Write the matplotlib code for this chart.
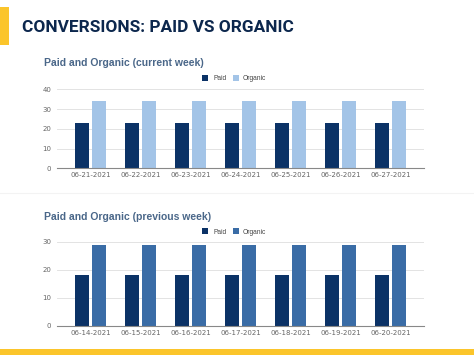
import matplotlib
matplotlib.use("Agg")
import matplotlib.pyplot as plt
import numpy as np

# Data
cur_dates = ["06-21-2021", "06-22-2021", "06-23-2021", "06-24-2021", "06-25-2021", "06-26-2021", "06-27-2021"]
cur_paid = [23, 23, 23, 23, 23, 23, 23]
cur_organic = [34, 34, 34, 34, 34, 34, 34]

prev_dates = ["06-14-2021", "06-15-2021", "06-16-2021", "06-17-2021", "06-18-2021", "06-19-2021", "06-20-2021"]
prev_paid = [18, 18, 18, 18, 18, 18, 18]
prev_organic = [29, 29, 29, 29, 29, 29, 29]

series_names = ["Paid", "Organic"]

W, H = 474, 355
fig = plt.figure(figsize=(W / 100, H / 100), dpi=100)
fig.patch.set_facecolor("white")

YELLOW = "#fbc52b"
NAVY = "#0b3266"
TITLE_C = "#0c274d"
SUB_C = "#4a6789"

def px(x, y):
    return x / W, 1 - y / H

# decorations
fig.add_artist(plt.Rectangle((0, 1 - 45 / H), 9 / W, 38 / H, transform=fig.transFigure, color=YELLOW, lw=0))
fig.add_artist(plt.Rectangle((0, 0), 1, 6 / H, transform=fig.transFigure, color=YELLOW, lw=0))
fig.add_artist(plt.Line2D([0, 1], [1 - 193 / H] * 2, transform=fig.transFigure, color="#f3f3f3", lw=0.8))

fig.text(*px(22, 27), "CONVERSIONS: PAID VS ORGANIC", family="Roboto", weight="bold",
         fontsize=12.4, color=TITLE_C, ha="left", va="center")

def legend(y, colors):
    xs = [(202, 213), (233, 243)]
    for (sx, tx), c, name in zip(xs, colors, series_names):
        fig.add_artist(plt.Rectangle(px(sx, y + 3), 6 / W, 6 / H, transform=fig.transFigure, color=c, lw=0))
        fig.text(*px(tx, y), name, fontsize=4.8, color="#444444", ha="left", va="center_baseline",
                 family="Liberation Sans")

def make_chart(top_px, bot_px, dates, paid, organic, org_color, ymax, yticks, sub, sub_y, leg_y):
    ax = fig.add_axes([57 / W, 1 - bot_px / H, 367 / W, (bot_px - top_px) / H])
    x = np.arange(len(dates))
    bw = 0.29
    ax.bar(x - 0.166, paid, bw, color=NAVY, zorder=3)
    ax.bar(x + 0.166, organic, bw, color=org_color, zorder=3)
    ax.set_xlim(-0.67, 6.67)
    ax.set_ylim(0, ymax)
    ax.set_yticks(yticks)
    ax.set_xticks(x)
    ax.set_xticklabels(dates)
    ax.tick_params(axis="both", length=0, labelsize=5, labelcolor="#666666", pad=3)
    ax.tick_params(axis="y", pad=4)
    ax.grid(axis="y", color="#e3e3e3", lw=0.7, zorder=0)
    for s in ["top", "right", "left"]:
        ax.spines[s].set_visible(False)
    ax.spines["bottom"].set_color("#888888")
    ax.spines["bottom"].set_linewidth(0.8)
    ax.spines["bottom"].set_zorder(4)
    ax.set_facecolor("none")
    fig.text(*px(44, sub_y), sub, family="Liberation Sans", weight="bold", fontsize=7.5,
             color=SUB_C, ha="left", va="center")
    legend(leg_y, [NAVY, org_color])
    return ax

make_chart(89.3, 168.3, cur_dates, cur_paid, cur_organic, "#a3c4e7", 40, [0, 10, 20, 30, 40],
           "Paid and Organic (current week)", 63, 78)
make_chart(241.7, 325.7, prev_dates, prev_paid, prev_organic, "#3a6ca6", 30, [0, 10, 20, 30],
           "Paid and Organic (previous week)", 216.5, 231)

fig.savefig("out.png", dpi=100, facecolor="white")
